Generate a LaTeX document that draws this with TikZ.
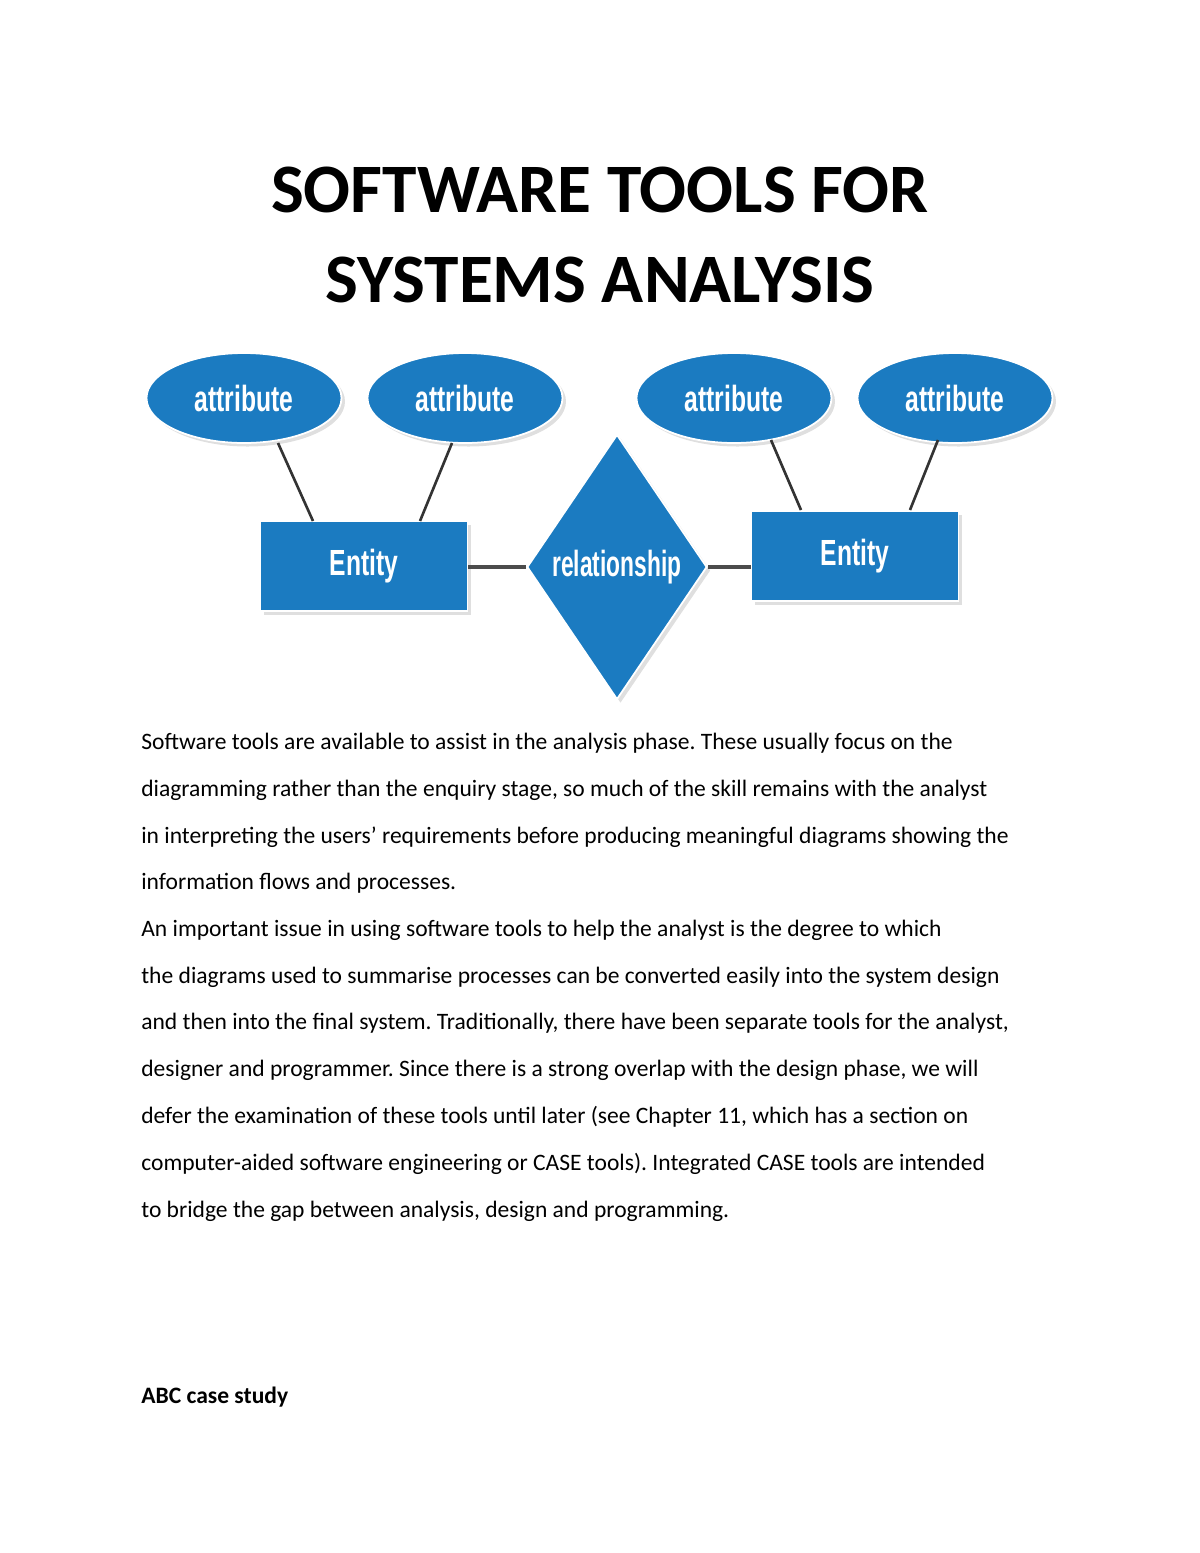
\documentclass[tikz,border=0pt]{standalone}
\usepackage{fontspec}
\setmainfont{Carlito}
\newfontfamily\shapefont{Liberation Sans}
\usetikzlibrary{shapes.geometric,shadows}
\definecolor{erblue}{HTML}{1B7BC1}
\tikzset{
  shp/.style={fill=erblue,draw=white,line width=1pt,text=white,font=\shapefont\bfseries\fontsize{18}{18}\selectfont,drop shadow={opacity=0.25,shadow xshift=2pt,shadow yshift=-2pt}},
  attr/.style={shp,ellipse,minimum width=3.9cm,minimum height=1.8cm,inner sep=0pt},
  ent/.style={shp,rectangle,minimum width=4.14cm,minimum height=1.8cm},
  rel/.style={shp,diamond,minimum width=3.6cm,minimum height=5.3cm,inner sep=0pt},
  ln/.style={line width=1.5pt,black!80},
  body/.style={anchor=west,font=\fontsize{13.4}{15}\selectfont,inner sep=0pt}
}
\begin{document}
\frenchspacing
\begin{tikzpicture}[x=0.02cm,y=-0.02cm]
\useasboundingbox (0,0) rectangle (1200,1553);
\node[font=\bfseries\fontsize{39.5}{45}\selectfont,align=center] (title) at (600,235) {SOFTWARE TOOLS FOR\\[0.2cm]SYSTEMS ANALYSIS};
\node[attr] (a1) at (244,398) {\scalebox{0.78}[1.15]{attribute}};
\node[attr] (a2) at (465,398) {\scalebox{0.78}[1.15]{attribute}};
\node[attr] (a3) at (734,398) {\scalebox{0.78}[1.15]{attribute}};
\node[attr] (a4) at (955,398) {\scalebox{0.78}[1.15]{attribute}};
\node[ent] (e1) at (364,566) {\scalebox{0.78}[1.15]{Entity}};
\node[ent] (e2) at (855,556) {\scalebox{0.78}[1.15]{Entity}};
\node[rel] (r) at (617,567) {\scalebox{0.72}[1.15]{relationship}};
\coordinate (p1) at (278,443); \coordinate (q1) at (313,521);
\coordinate (p2) at (452,443); \coordinate (q2) at (420,521);
\coordinate (p3) at (771,440); \coordinate (q3) at (801,510);
\coordinate (p4) at (938,440); \coordinate (q4) at (910,510);
\draw[ln] (p1) -- (q1); \draw[ln] (p2) -- (q2);
\draw[ln] (p3) -- (q3); \draw[ln] (p4) -- (q4);
\draw[ln,line width=2.5pt,black!70] (e1.east |- r) -- (r.west);
\draw[ln,line width=2.5pt,black!70] (r.east) -- (e2.west |- r);
\node[body] (l1) at (141,743) {Software tools are available to assist in the analysis phase. These usually focus on the};
\node[body] (l2) at (141,790) {diagramming rather than the enquiry stage, so much of the skill remains with the analyst};
\node[body] (l3) at (141,837) {in interpreting the users’ requirements before producing meaningful diagrams showing the};
\node[body] (l4) at (141,883) {information flows and processes.};
\node[body] (l5) at (141,930) {An important issue in using software tools to help the analyst is the degree to which};
\node[body] (l6) at (141,977) {the diagrams used to summarise processes can be converted easily into the system design};
\node[body] (l7) at (141,1023) {and then into the final system. Traditionally, there have been separate tools for the analyst,};
\node[body] (l8) at (141,1070) {designer and programmer. Since there is a strong overlap with the design phase, we will};
\node[body] (l9) at (141,1117) {defer the examination of these tools until later (see Chapter 11, which has a section on};
\node[body] (l10) at (141,1164) {computer-aided software engineering or CASE tools). Integrated CASE tools are intended};
\node[body] (l11) at (141,1211) {to bridge the gap between analysis, design and programming.};
\node[body,font=\bfseries\fontsize{13.4}{15}\selectfont] (abc) at (141,1397) {ABC case study};
\end{tikzpicture}
\end{document}
